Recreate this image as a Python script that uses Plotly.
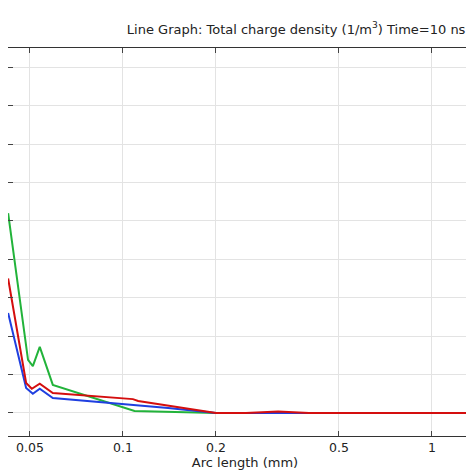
import plotly.graph_objects as go

green_x = [0.0425, 0.0493, 0.0511, 0.0538, 0.0593, 0.109, 0.2, 0.3, 0.5, 1.0, 2.0]
green_y = [5.2, 1.38, 1.22, 1.72, 0.73, 0.05, 0.0, 0.0, 0.0, 0.0, 0.0]
red_x = [0.0425, 0.0486, 0.0507, 0.0538, 0.0593, 0.1077, 0.112, 0.2, 0.25, 0.318, 0.4, 0.5, 1.0, 2.0]
red_y = [3.5, 0.78, 0.63, 0.76, 0.52, 0.36, 0.31, 0.0, 0.0, 0.04, 0.0, 0.0, 0.0, 0.0]
blue_x = [0.0425, 0.0486, 0.0511, 0.0538, 0.0593, 0.1, 0.14, 0.2, 0.5, 1.0, 2.0]
blue_y = [2.6, 0.65, 0.5, 0.63, 0.39, 0.23, 0.13, 0.0, 0.0, 0.0, 0.0]

fig = go.Figure()
for xs, ys, c in [(green_x, green_y, "#22b33a"), (blue_x, blue_y, "#1f3fe0"), (red_x, red_y, "#d40e0e")]:
    fig.add_trace(go.Scatter(x=xs, y=ys, mode="lines", line=dict(color=c, width=2), showlegend=False))

fig.update_layout(
    width=474, height=474, margin=dict(l=0, r=0, t=40, b=46, autoexpand=False),
    plot_bgcolor="white", paper_bgcolor="white",
    font=dict(family="DejaVu Sans", size=12, color="#222"),
    title=dict(text="Line Graph: Total charge density (1/m<sup>3</sup>) Time=10 ns",
               x=0.965, xanchor="right", y=0.955, yanchor="middle", font=dict(size=13)),
)
fig.update_xaxes(type="log", range=[-1.372, 0.162], tickvals=[0.05, 0.1, 0.2, 0.5, 1, 2],
                 ticktext=["0.05", "0.1", "0.2", "0.5", "1", "2"], automargin=False,
                 showgrid=True, gridcolor="#e3e3e3", showline=True, linecolor="#333", mirror="ticks",
                 ticks="inside", ticklen=5, tickfont=dict(size=12.5),
                 title=dict(text="Arc length (mm)", standoff=2, font=dict(size=13)))
fig.update_yaxes(range=[-0.6, 9.5], dtick=1, showticklabels=False, showgrid=True, gridcolor="#e3e3e3",
                 automargin=False, zeroline=False, showline=True, linecolor="#333", mirror="ticks",
                 ticks="inside", ticklen=5)

# partial legend box at right edge
fig.add_shape(type="rect", xref="paper", yref="paper", x0=465/474, x1=1.0,
              y0=(428-132)/388, y1=(428-82)/388, line=dict(color="#888", width=2), fillcolor="#777")
fig.add_shape(type="rect", xref="paper", yref="paper", x0=463/474, x1=1.0,
              y0=(428-130)/388, y1=(428-84)/388, line=dict(color="#222", width=1.5), fillcolor="white")
for yy, c in [(95, "#1f3fe0"), (110, "#22b33a"), (123, "#d40e0e")]:
    fig.add_shape(type="line", xref="paper", yref="paper", x0=469/474, x1=1.0,
                  y0=(428-yy)/388, y1=(428-yy)/388, line=dict(color=c, width=2))

fig.write_html("out.html")
